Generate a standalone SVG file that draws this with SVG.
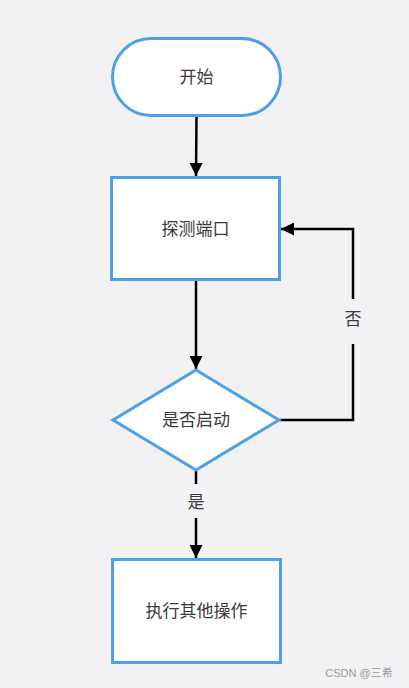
<svg xmlns="http://www.w3.org/2000/svg" width="409" height="688" viewBox="0 0 409 688">
<defs>
<style>
.node{fill:#ffffff;stroke:#4d9fe9;stroke-width:3}
.t{font-family:"Liberation Sans","Noto Sans CJK SC",sans-serif;font-size:17px;fill:#3a3a3a;text-anchor:middle;dominant-baseline:central}
.edge{fill:none;stroke:#000000;stroke-width:2.5}
.lbl{fill:#f2f2f5}
</style>
<marker id="arr" viewBox="0 0 10 10" refX="10" refY="5" markerWidth="5.2" markerHeight="5.2" markerUnits="strokeWidth" orient="auto">
<path d="M0,0 L10,5 L0,10 z" fill="#000000"/>
</marker>
</defs>
<rect x="0" y="0" width="409" height="688" fill="#f2f2f5"/>
<g id="connectors">
<path class="edge" d="M196.5,116 L196,176" marker-end="url(#arr)"/>
<path class="edge" d="M196,280 L196,369" marker-end="url(#arr)"/>
<path class="edge" d="M280,420 L353,420 L353,229 L281,229" marker-end="url(#arr)"/>
<path class="edge" d="M196,471 L196,558" marker-end="url(#arr)"/>
<rect class="lbl" x="340" y="299" width="26" height="45"/>
<text class="t" x="353" y="319">否</text>
<rect class="lbl" x="183" y="484" width="26" height="34"/>
<text class="t" x="196" y="502">是</text>
</g>
<g id="start">
<rect class="node" x="112.5" y="38.5" width="168" height="77" rx="38.5" ry="38.5"/>
<text class="t" x="196.5" y="77">开始</text>
</g>
<g id="probe">
<rect class="node" x="111.5" y="177.5" width="168" height="102"/>
<text class="t" x="195.5" y="229">探测端口</text>
</g>
<g id="decision">
<polygon class="node" points="196,370 279,420 196,470 113,420"/>
<text class="t" x="196" y="420">是否启动</text>
</g>
<g id="exec">
<rect class="node" x="112.5" y="559.5" width="168" height="103"/>
<text class="t" x="196.5" y="611">执行其他操作</text>
</g>
<text x="359" y="673" style="font-family:'Liberation Sans','Noto Sans CJK SC',sans-serif;font-size:11px;fill:#999999;text-anchor:middle;dominant-baseline:central">CSDN @三希</text>
</svg>
